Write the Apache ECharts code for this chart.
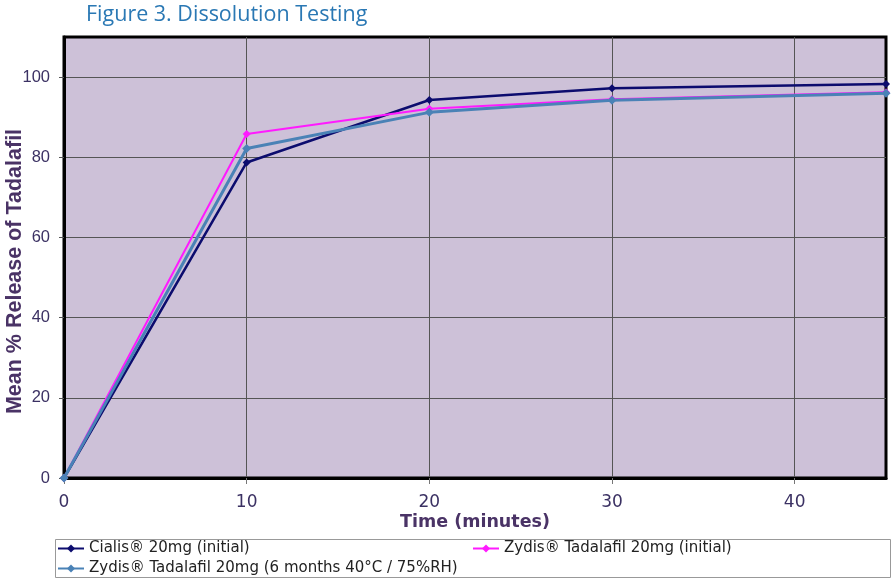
<!DOCTYPE html>
<html>
<head>
<meta charset="utf-8">
<script src="https://cdn.jsdelivr.net/npm/echarts@6/dist/echarts.min.js"></script>
<style>html,body{margin:0;padding:0;background:#fff}#c{width:893px;height:584px}</style>
</head>
<body>
<div id="c"></div>
<script>
var times = [0, 10, 20, 30, 45];
var cialisInitial = [0, 78.7, 94.3, 97.2, 98.3];
var zydisInitial = [0, 85.8, 92.1, 94.5, 96.2];
var zydisAged = [0, 82.2, 91.2, 94.2, 96.0];
var seriesNames = ['Cialis\u00ae 20mg (initial)', 'Zydis\u00ae Tadalafil 20mg (initial)', 'Zydis\u00ae Tadalafil 20mg (6 months 40\u00b0C / 75%RH)'];
var xTicks = [0, 10, 20, 30, 40];
var yTicks = [0, 20, 40, 60, 80, 100];

function pairs(ys) { return times.map(function (t, i) { return [t, ys[i]]; }); }

var chart = echarts.init(document.getElementById('c'));
var labelColor = '#3b3163';
var nameColor = '#4a3366';
var legendText = { fontFamily: 'DejaVu Sans', fontSize: 15, color: '#222' };
function legendAt(name, left, top) {
  return { data: [name], left: left, top: top, padding: 0, itemWidth: 26, itemHeight: 10, textStyle: legendText };
}
chart.setOption({
  animation: false,
  backgroundColor: '#ffffff',
  title: {
    text: 'Figure 3. Dissolution Testing',
    left: 81, top: -1,
    textStyle: { fontFamily: 'Open Sans', fontWeight: 'normal', fontSize: 21.5, color: '#2a78b4' }
  },
  graphic: [{
    type: 'rect', left: 55, top: 539,
    shape: { width: 835, height: 38 },
    style: { fill: '#ffffff', stroke: '#999999', lineWidth: 1 }, z: 0
  }],
  legend: [
    legendAt(seriesNames[0], 57, 541),
    legendAt(seriesNames[1], 472, 541),
    legendAt(seriesNames[2], 57, 561)
  ],
  grid: {
    left: 64, right: 7, top: 37, bottom: 106, outerBoundsMode: 'none', containLabel: false,
    show: true, backgroundColor: '#cdc1d8', borderColor: '#000', borderWidth: 3
  },
  xAxis: {
    type: 'value', min: 0, max: 45, interval: 10,
    name: 'Time (minutes)', nameLocation: 'middle', nameGap: 35, nameMoveOverlap: false,
    nameTextStyle: { fontFamily: 'DejaVu Sans', fontWeight: 'bold', fontSize: 17.5, color: nameColor },
    axisLine: { show: true, lineStyle: { color: '#000', width: 3 } },
    axisTick: { show: true, length: 6, customValues: xTicks, lineStyle: { color: '#777' } },
    axisLabel: {
      margin: 16, fontFamily: 'DejaVu Sans', fontSize: 17, color: labelColor,
      customValues: xTicks,
      formatter: function (v) { return xTicks.indexOf(v) >= 0 ? String(v) : ''; }
    },
    splitLine: { show: true, lineStyle: { color: '#555', width: 1 } }
  },
  yAxis: {
    type: 'value', min: 0, max: 110, interval: 20,
    name: 'Mean % Release of Tadalafil', nameLocation: 'middle', nameGap: 38, nameMoveOverlap: false,
    nameTextStyle: { fontFamily: 'Liberation Sans', fontWeight: 'bold', fontSize: 21.5, color: nameColor, padding: [0, 28, 0, 0] },
    axisLine: { show: true, lineStyle: { color: '#000', width: 3 } },
    axisTick: { show: true, length: 5, customValues: yTicks, lineStyle: { color: '#555' } },
    axisLabel: {
      margin: 14, fontFamily: 'Liberation Sans', fontSize: 16.5, color: labelColor,
      customValues: yTicks,
      formatter: function (v) { return yTicks.indexOf(v) >= 0 ? String(v) : ''; }
    },
    splitLine: { show: true, lineStyle: { color: '#555', width: 1 } }
  },
  series: [
    { name: seriesNames[0], type: 'line', data: pairs(cialisInitial), symbol: 'diamond', symbolSize: 8,
      itemStyle: { color: '#0c0c6e' }, lineStyle: { color: '#0c0c6e', width: 2.5 } },
    { name: seriesNames[1], type: 'line', data: pairs(zydisInitial), symbol: 'diamond', symbolSize: 8,
      itemStyle: { color: '#ff1aff' }, lineStyle: { color: '#ff1aff', width: 2 } },
    { name: seriesNames[2], type: 'line', data: pairs(zydisAged), symbol: 'diamond', symbolSize: 9,
      itemStyle: { color: '#4a82b6' }, lineStyle: { color: '#4a82b6', width: 3 } }
  ]
});
</script>
</body>
</html>
